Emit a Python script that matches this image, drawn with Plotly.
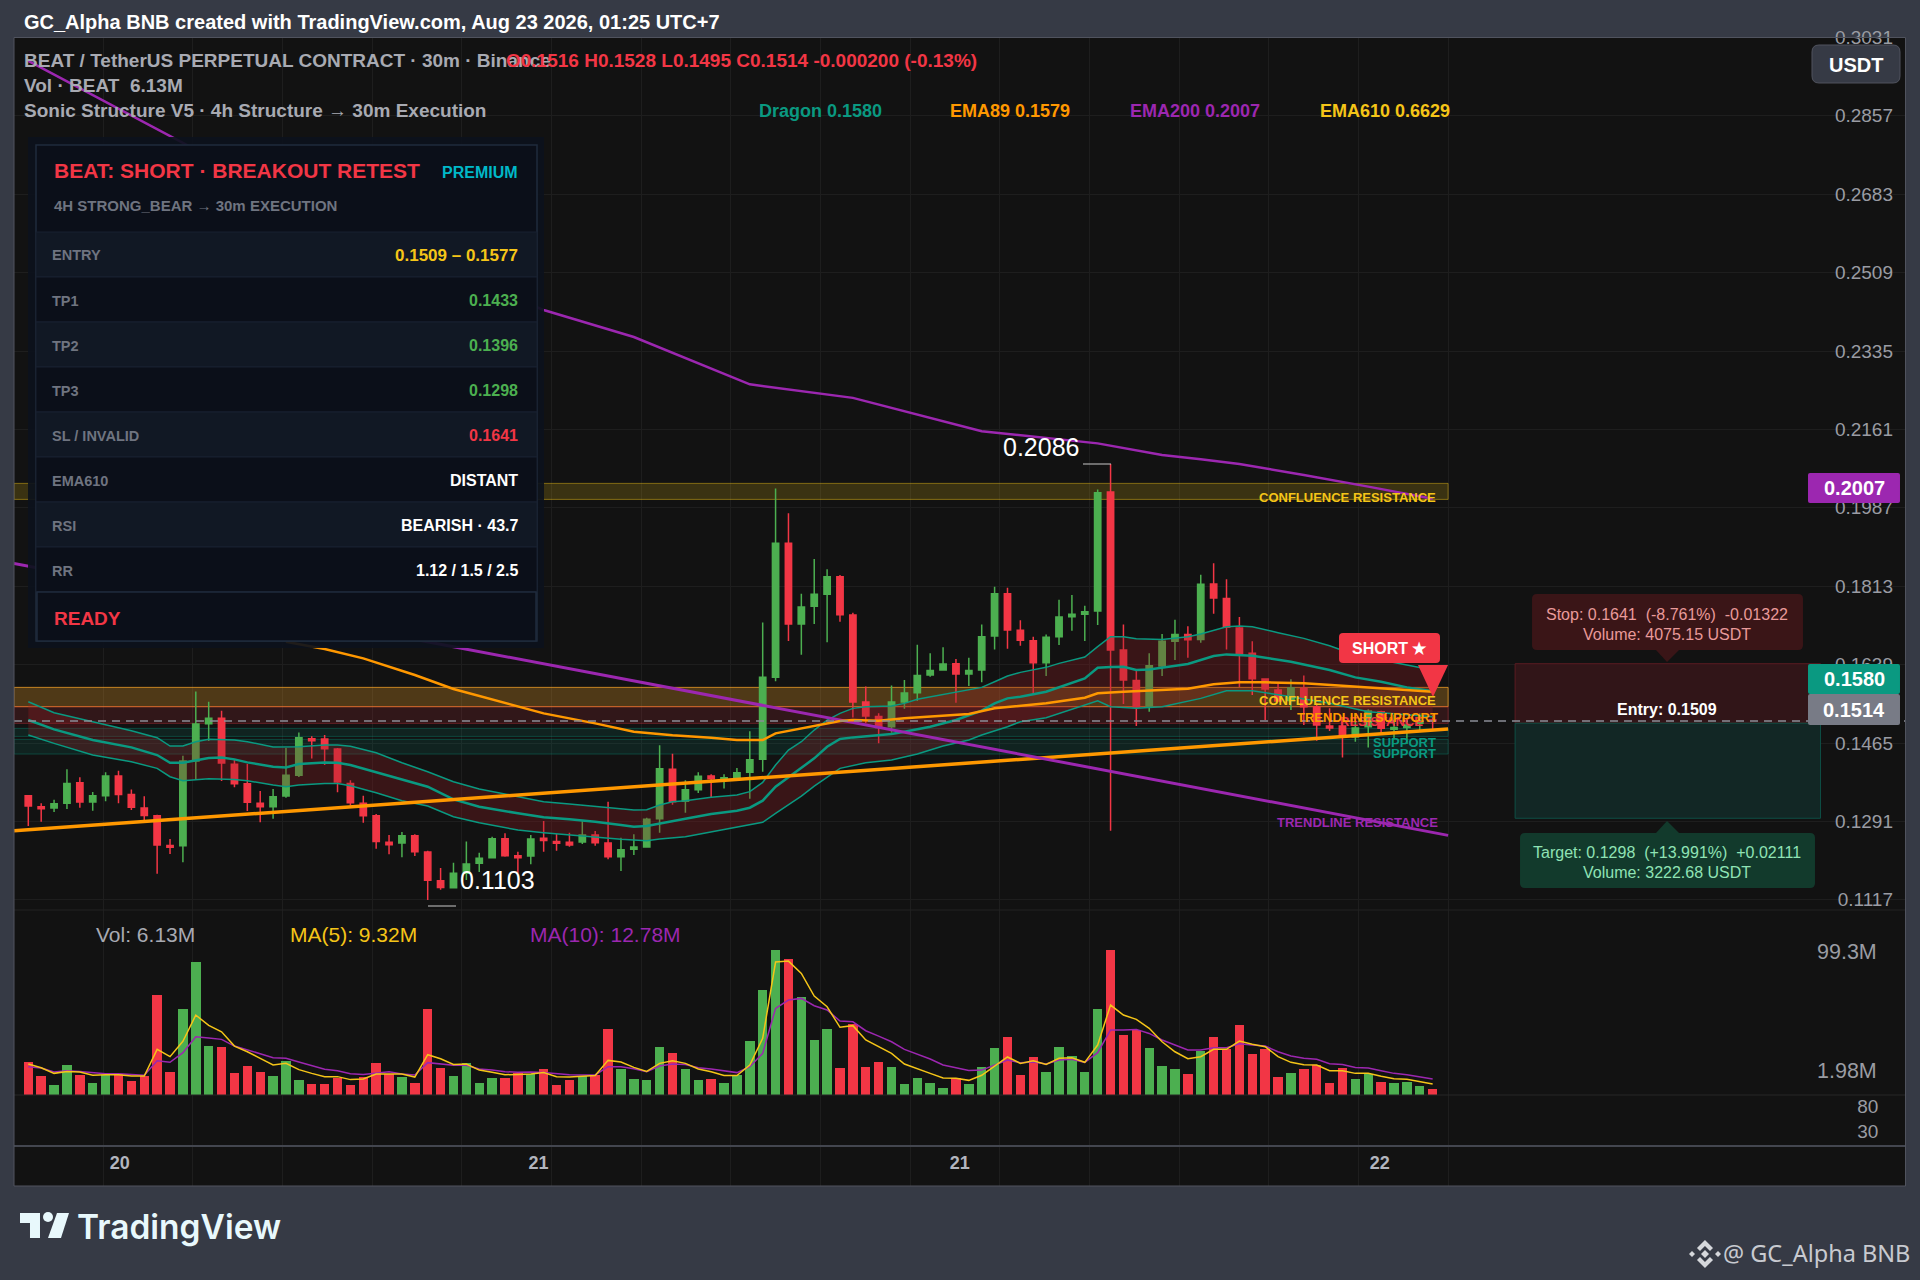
import plotly.graph_objects as go

W, H = 1920, 1280
FONT = 'Liberation Sans'
PAGE_BG = '#363A45'
PANE_BG = '#121212'
GRID = '#1E1E1E'
RED = '#F23645'
GREEN = '#4CAF50'
TEAL = '#0A9981'
ORANGE = '#FF9800'
PURPLE = '#9C27B0'
YELLOW = '#F5C518'
TICK = '#9A9CA3'

# candles, one row per 30m bar
candle_open = [
    .13481, .13237, .13207, .13311, .13769, .13340, .13481, .13917, .13510, .13207,
    .13037, .12378, .12371, .14250, .15079, .15197, .14176, .13747, .13311, .13237,
    .13473, .13932, .14746, .14738, .14516, .13754, .13311, .13037, .12445, .12430,
    .12593, .12230, .11594, .11439, .11757, .11979, .12105, .12526, .12149, .12142,
    .12534, .12467, .12445, .12452, .12608, .12430, .12127, .12290, .12341, .12970,
    .14065, .13355, .13614, .13917, .13836, .13873, .13999, .14287, .16107, .19081,
    .17290, .17683, .17949, .18341, .17490, .15559, .15241, .15012, .15559, .15767,
    .16159, .16270, .16410, .16181, .16270, .17024, .17964, .17150, .16921, .16432,
    .17009, .17453, .17505, .17579, .20220, .16713, .16040, .15441, .16358, .16906,
    .17061, .16950, .18178, .17860, .17202, .16640, .16070, .15826, .15596, .15863,
    .15456, .15027, .15027, .14783, .15012, .15345, .14953, .14997, .15086, .1516]
candle_high = [
    .13481, .13311, .13392, .14065, .13888, .13562, .13999, .14036, .13621, .13466,
    .13059, .12519, .14368, .15796, .15567, .15367, .14294, .14184, .13584, .13629,
    .14539, .14886, .14798, .14827, .14539, .13821, .13481, .13074, .12608, .12674,
    .12623, .12260, .11876, .11994, .12467, .12216, .12571, .12645, .12238, .12608,
    .12918, .12630, .12660, .12941, .12697, .13347, .12549, .12623, .12992, .14598,
    .14413, .13821, .13999, .13954, .13954, .14095, .14909, .17327, .20301, .19747,
    .17964, .18733, .18504, .18378, .17542, .15907, .15308, .15929, .16048, .16832,
    .16640, .16773, .16514, .16543, .17283, .18119, .18097, .17372, .17009, .17061,
    .17831, .17934, .17697, .20279, .20841, .17283, .16247, .16640, .17069, .17387,
    .17239, .18385, .18637, .18282, .17446, .16906, .16085, .15974, .16063, .16151,
    .15530, .15419, .15197, .15145, .15397, .15367, .15271, .15138, .15308, .1528]
candle_low = [
    .12807, .12904, .13118, .13185, .13214, .13148, .13355, .13311, .13163, .12896,
    .11750, .12186, .12001, .13843, .14694, .13806, .13666, .13141, .12889, .12970,
    .13436, .13895, .14309, .14161, .13555, .13259, .12881, .12304, .12179, .12112,
    .12142, .11165, .11395, .11424, .11609, .11787, .12090, .12127, .11757, .11957,
    .12238, .12260, .12349, .12408, .12371, .12068, .11809, .12164, .12334, .12660,
    .13281, .13103, .13540, .13451, .13643, .13828, .13414, .14013, .16018, .16913,
    .16610, .17290, .16884, .17342, .15219, .15086, .14642, .14879, .15411, .15582,
    .16122, .16255, .15545, .15915, .15996, .16728, .16743, .16810, .15722, .16137,
    .16824, .17143, .16913, .17268, .12704, .15515, .15027, .15345, .16137, .16492,
    .16543, .16876, .17520, .16728, .15892, .15715, .15160, .15567, .15382, .15049,
    .14701, .14916, .14331, .14679, .14553, .14849, .14731, .14627, .14901, .1495]
candle_close = [
    .13251, .13192, .13303, .13754, .13340, .13481, .13917, .13510, .13222, .13044,
    .12386, .12334, .14250, .15071, .15197, .14206, .13747, .13333, .13237, .13458,
    .13932, .14768, .14701, .14524, .13784, .13325, .13037, .12467, .12393, .12593,
    .12238, .11602, .11446, .11757, .11964, .12090, .12526, .12149, .12105, .12519,
    .12489, .12423, .12386, .12608, .12438, .12127, .12282, .12341, .12956, .14080,
    .13347, .13614, .13910, .13858, .13880, .13991, .14280, .16107, .19081, .17290,
    .17668, .17949, .18341, .17498, .15559, .15249, .14997, .15559, .15759, .16151,
    .16262, .16403, .16181, .16262, .17009, .17964, .17157, .16928, .16432, .16995,
    .17446, .17505, .17564, .20205, .16713, .16048, .15441, .16366, .16906, .17061,
    .16943, .18171, .17868, .17217, .16640, .16077, .15848, .15582, .15878, .15456,
    .15049, .14982, .14790, .14982, .15360, .14975, .14997, .15049, .15138, .1514]

# volume pane, millions
volume = [
    24.33, 14.50, 8.46, 21.87, 15.39, 10.03, 15.39, 15.84, 11.14, 14.94,
    69.03, 17.18, 59.42, 90.93, 34.83, 34.16, 16.51, 21.20, 17.40, 14.50,
    24.78, 11.81, 9.58, 9.36, 13.38, 8.46, 13.83, 23.21, 15.84, 14.05,
    10.25, 59.64, 20.31, 14.94, 23.66, 10.03, 13.60, 13.16, 16.51, 15.84,
    19.41, 8.46, 12.26, 14.94, 15.61, 46.01, 19.64, 12.71, 12.04, 33.94,
    29.92, 19.41, 11.81, 12.93, 9.80, 15.39, 37.96, 72.38, 99.30, 92.94,
    67.91, 38.86, 46.01, 20.08, 49.59, 20.75, 24.33, 20.53, 9.36, 13.16,
    9.80, 6.90, 13.16, 9.13, 20.75, 33.49, 40.87, 15.39, 27.68, 17.63,
    34.16, 28.13, 17.18, 59.64, 99.30, 41.99, 45.56, 33.49, 21.42, 19.41,
    15.84, 31.71, 40.87, 32.82, 48.92, 29.69, 32.82, 14.27, 16.51, 19.19,
    22.10, 10.03, 20.08, 12.48, 16.28, 10.47, 10.03, 10.92, 8.24, 6.13]
vol_ma5 = [
    22.8, 20.3, 16.5, 17.8, 17.4, 15.2, 15.6, 15.6, 14.7, 14.7,
    32.6, 27.7, 38.0, 55.6, 48.7, 44.4, 34.8, 31.0, 26.6, 22.1,
    23.2, 19.0, 16.5, 14.3, 14.3, 12.3, 12.7, 16.1, 16.1, 16.1,
    14.0, 29.0, 26.3, 22.5, 22.8, 18.7, 17.2, 15.6, 15.8, 16.1,
    17.0, 14.3, 14.0, 14.7, 15.0, 25.2, 24.1, 20.5, 17.8, 23.2,
    25.0, 23.2, 19.4, 17.6, 15.0, 15.0, 22.1, 40.0, 91.2, 91.8,
    83.6, 68.4, 61.2, 47.4, 48.5, 38.9, 34.4, 29.9, 22.8, 19.4,
    16.5, 13.4, 13.2, 11.8, 15.2, 21.4, 27.5, 23.2, 25.0, 22.5,
    26.6, 27.0, 23.9, 35.5, 62.3, 55.6, 52.7, 46.7, 37.7, 31.0,
    26.3, 27.7, 32.6, 32.6, 38.2, 36.0, 34.4, 27.7, 23.9, 22.3,
    22.1, 18.3, 18.3, 16.5, 16.5, 14.5, 12.9, 12.5, 11.1, 9.32]
vol_ma10 = [
    21.0, 20.1, 17.4, 18.3, 17.8, 17.0, 16.3, 16.3, 15.6, 15.2,
    25.0, 23.9, 30.4, 41.1, 40.2, 39.3, 34.8, 32.4, 29.7, 27.0,
    26.6, 24.1, 21.4, 19.2, 18.3, 16.3, 15.8, 16.7, 17.6, 16.1,
    15.4, 23.7, 23.0, 21.9, 21.9, 19.4, 18.7, 17.6, 17.2, 17.4,
    17.0, 16.1, 15.6, 15.4, 15.4, 21.0, 21.0, 19.6, 17.6, 21.4,
    22.8, 22.5, 20.3, 19.4, 18.3, 17.0, 21.0, 29.9, 60.1, 65.7,
    66.8, 61.9, 59.0, 51.6, 51.1, 45.1, 41.5, 37.7, 32.6, 29.5,
    26.1, 22.1, 20.5, 18.5, 18.7, 22.1, 25.4, 23.7, 24.1, 22.8,
    25.4, 25.9, 23.9, 30.4, 45.6, 45.6, 46.0, 43.3, 38.9, 35.5,
    32.2, 32.2, 33.7, 33.7, 36.4, 35.5, 34.8, 31.0, 28.1, 26.6,
    25.9, 23.0, 22.5, 20.5, 20.1, 18.3, 16.5, 15.6, 14.3, 12.78]

# dragon ribbon, read at the bars where the lines bend
upper_x = [0, 2, 5, 8, 10, 11, 12, 13, 14, 16, 17, 19, 21, 23, 24, 25, 27, 29, 31, 33, 35, 38, 40, 42, 44, 46, 47, 48, 49,
           50, 51, 53, 55, 56, 57, 58, 59, 60, 61, 62, 63, 64, 65, 67, 68, 69, 71, 73, 74, 75, 76, 77, 78, 79, 80,
           82, 83, 84, 85, 86, 88, 90, 91, 92, 93, 94, 95, 97, 99, 101, 103, 105, 107, 109]
upper_y = [.15567, .15323, .15123, .14923, .14768, .14583, .14583, .14679, .14731, .14716, .14679, .14561, .14568, .14605,
           .14605, .14576, .14435, .14213, .14013, .13791, .13629, .13458, .13347, .13296, .13244, .13192, .13163, .13170,
           .13274, .13347, .13370, .13444, .13496, .13570, .13777, .14161, .14494, .14679, .14938, .15160, .15308, .15419,
           .15456, .15471, .15530, .15619, .15730, .15826, .15885, .16011, .16137, .16218, .16270, .16329, .16418,
           .16558, .16788, .17009, .17009, .16965, .16950, .17009, .17069, .17157, .17231, .17246, .17231, .17098, .16972,
           .16810, .16603, .16492, .16381, .16270]
mid_x = [0, 2, 5, 8, 10, 11, 12, 13, 14, 15, 16, 17, 19, 20, 21, 23, 24, 25, 27, 29, 31, 33, 35, 38, 40, 42, 44, 46, 47, 48,
         49, 51, 53, 55, 56, 57, 58, 59, 60, 61, 62, 63, 64, 66, 67, 68, 70, 72, 74, 75, 76, 77, 79, 82, 83, 84, 85, 86, 87,
         90, 92, 93, 95, 98, 101, 103, 105, 107, 109]
mid_y = [.15160, .14953, .14716, .14553, .14383, .14213, .14213, .14257, .14317, .14331, .14287, .14220, .14124, .14109,
         .14184, .14220, .14213, .14161, .13999, .13851, .13680, .13399, .13237, .13089, .13000, .12956, .12904, .12830,
         .12793, .12808, .12867, .12970, .13074, .13148, .13214, .13370, .13680, .13888, .14109, .14309, .14568, .14738,
         .14775, .14834, .14849, .14901, .15012, .15160, .15367, .15530, .15641, .15678, .15789, .16085, .16321, .16336,
         .16344, .16270, .16284, .16403, .16580, .16617, .16588, .16455, .16270, .16107, .16011, .15885, .15800]
lower_x = [0, 2, 5, 8, 10, 11, 12, 13, 14, 16, 17, 19, 20, 21, 23, 24, 25, 27, 29, 31, 33, 35, 38, 40, 42, 44, 46, 48, 49,
           51, 53, 55, 57, 58, 60, 61, 63, 65, 67, 69, 71, 73, 74, 76, 77, 79, 82, 83, 84, 86, 88, 91, 93, 95, 98, 101,
           104, 107, 109]
lower_y = [.14827, .14642, .14383, .14235, .14087, .13902, .13814, .13843, .13858, .13843, .13814, .13717, .13680, .13717,
           .13754, .13754, .13703, .13547, .13370, .13251, .13014, .12881, .12719, .12660, .12608, .12571, .12512, .12482,
           .12519, .12571, .12682, .12793, .12889, .13089, .13473, .13695, .14087, .14213, .14272, .14405, .14583, .14716,
           .14827, .15012, .15123, .15212, .15493, .15589, .15456, .15419, .15456, .15641, .15811, .15811, .15678, .15530,
           .15345, .15271, .15234]
ema89_x = [20, 23, 26, 30, 33, 35, 38, 40, 44, 47, 50, 53, 55, 57, 58, 60, 63, 64, 66, 68, 70, 73, 75, 77, 79, 82, 83, 85,
           88, 90, 92, 94, 96, 99, 102, 105, 109]
ema89_y = [.16898, .16736, .16529, .16159, .15848, .15693, .15471, .15308, .15086, .14901, .14820, .14768, .14716, .14716,
           .14864, .14975, .15138, .15160, .15145, .15197, .15234, .15293, .15419, .15471, .15530, .15656, .15752, .15789,
           .15826, .15855, .15952, .15996, .15996, .15974, .15922, .15863, .1579]
ema200_x = [0, 11, 25, 40, 47, 56, 64, 74, 81, 83, 88, 91, 94, 99, 104, 109]
ema200_y = [.2979, .2812, .2600, .2426, .2366, .2261, .2231, .2157, .2137, .2130, .2104, .2095, .2084, .2060, .2034, .2007]

# straight trendlines and horizontal zones
edge_x = [-1.11, 110.2]
trend_support_y = [.12704, .14960]
trend_resist_y = [.18637, .12600]
zone_top = [(.20412, .20057), (.15885, .15456)]
zone_red = (.15456, .15086)
zone_green = [(.14975, .14797), (.14731, .14405)]

# position tool
box_x = [115.4, 139.1]
stop_price, entry_price, target_price = .1641, .1509, .1298
last_price = .1514

price_ticks = [.3031, .2857, .2683, .2509, .2335, .2161, .1987, .1813, .1639, .1465, .1291, .1117]
rsi_ticks = [80, 30]
date_pos = [7.1, 39.6, 72.3, 104.9]
date_labels = ['20', '21', '21', '22']
grid_pos = [5.8, 12.76, 19.72, 26.68, 33.64, 40.6, 47.56, 54.52, 61.48, 68.44, 75.4, 82.36, 89.32, 96.28, 103.24, 110.2]

rows = [
    ('ENTRY', '0.1509 – 0.1577', YELLOW, 17),
    ('TP1', '0.1433', GREEN, 16),
    ('TP2', '0.1396', GREEN, 16),
    ('TP3', '0.1298', GREEN, 16),
    ('SL / INVALID', '0.1641', RED, 16),
    ('EMA610', 'DISTANT', '#FFFFFF', 16),
    ('RSI', 'BEARISH · 43.7', '#FFFFFF', 16),
    ('RR', '1.12 / 1.5 / 2.5', '#FFFFFF', 16),
]

bars = list(range(len(candle_close)))
vol_colors = [GREEN if c >= o else RED for o, c in zip(candle_open, candle_close)]


def px(x):
    return x / W


def py(y):
    return 1 - y / H


fig = go.Figure()


def note(x, y, text, size, color, anchor='left', weight=400, family=FONT):
    fig.add_annotation(
        x=px(x), y=py(y), xref='paper', yref='paper', text=text, showarrow=False,
        xanchor=anchor, yanchor='middle', borderpad=0, borderwidth=0,
        font={'family': family, 'size': size, 'color': color, 'weight': weight},
    )


def pane_rect(x0, y0, x1, y1, fill, line=None, width=1, layer='above'):
    fig.add_shape(
        type='rect', xref='paper', yref='paper', x0=px(x0), x1=px(x1), y0=py(y0), y1=py(y1),
        fillcolor=fill, line={'color': line or 'rgba(0,0,0,0)', 'width': width}, layer=layer,
    )


def poly(points, fill, layer='above'):
    path = 'M ' + ' L '.join(f'{px(x):.5f} {py(y):.5f}' for x, y in points) + ' Z'
    fig.add_shape(type='path', xref='paper', yref='paper', path=path, fillcolor=fill,
                  line={'width': 0}, layer=layer)


def round_rect(x0, y0, x1, y1, r, fill, line=None):
    p = [
        f'M {px(x0 + r):.5f} {py(y0):.5f}', f'L {px(x1 - r):.5f} {py(y0):.5f}',
        f'Q {px(x1):.5f} {py(y0):.5f} {px(x1):.5f} {py(y0 + r):.5f}',
        f'L {px(x1):.5f} {py(y1 - r):.5f}',
        f'Q {px(x1):.5f} {py(y1):.5f} {px(x1 - r):.5f} {py(y1):.5f}',
        f'L {px(x0 + r):.5f} {py(y1):.5f}',
        f'Q {px(x0):.5f} {py(y1):.5f} {px(x0):.5f} {py(y1 - r):.5f}',
        f'L {px(x0):.5f} {py(y0 + r):.5f}',
        f'Q {px(x0):.5f} {py(y0):.5f} {px(x0 + r):.5f} {py(y0):.5f} Z',
    ]
    fig.add_shape(type='path', xref='paper', yref='paper', path=' '.join(p), fillcolor=fill,
                  line={'color': line or 'rgba(0,0,0,0)', 'width': 1}, layer='above')


def zone(top, bottom, fill, line):
    fig.add_shape(type='rect', xref='x', yref='y', x0=edge_x[0], x1=edge_x[1], y0=bottom, y1=top,
                  fillcolor=fill, line={'color': line, 'width': 1}, layer='between')


def line_trace(x, y, color, width, yaxis='y', **kw):
    return go.Scatter(x=x, y=y, mode='lines', yaxis=yaxis, hoverinfo='skip',
                      line={'color': color, 'width': width}, **kw)


# zones and position boxes sit under the candles
zone(*zone_top[0], 'rgba(245,197,24,0.18)', 'rgba(245,197,24,0.45)')
zone(*zone_top[1], 'rgba(255,170,40,0.26)', 'rgba(255,170,40,0.70)')
zone(*zone_red, 'rgba(242,54,69,0.14)', 'rgba(242,54,69,0.35)')
zone(*zone_green[0], 'rgba(10,153,129,0.13)', 'rgba(10,153,129,0.35)')
zone(*zone_green[1], 'rgba(10,153,129,0.13)', 'rgba(10,153,129,0.35)')
fig.add_shape(type='rect', xref='x', yref='y', x0=box_x[0], x1=box_x[1], y0=entry_price, y1=stop_price,
              fillcolor='#311518', line={'color': '#5A1C22', 'width': 1}, layer='between')
fig.add_shape(type='rect', xref='x', yref='y', x0=box_x[0], x1=box_x[1], y0=target_price, y1=entry_price,
              fillcolor='#122725', line={'color': '#0E4F45', 'width': 1}, layer='between')

fig.add_trace(line_trace(lower_x, lower_y, TEAL, 1.5))
fig.add_trace(line_trace(upper_x, upper_y, TEAL, 1.5, fill='tonexty', fillcolor='rgba(150,30,38,0.30)'))
fig.add_trace(line_trace(mid_x, mid_y, TEAL, 2.5))
fig.add_trace(line_trace(edge_x, trend_support_y, ORANGE, 3.5))
fig.add_trace(line_trace(edge_x, trend_resist_y, PURPLE, 3))
fig.add_trace(line_trace(ema200_x, ema200_y, PURPLE, 2.5))
fig.add_trace(line_trace(ema89_x, ema89_y, ORANGE, 2.5))

fig.add_trace(go.Candlestick(
    x=bars, open=candle_open, high=candle_high, low=candle_low, close=candle_close, yaxis='y',
    increasing={'line': {'color': GREEN, 'width': 1.5}, 'fillcolor': GREEN},
    decreasing={'line': {'color': RED, 'width': 1.5}, 'fillcolor': RED},
    whiskerwidth=0, hoverinfo='skip',
))

fig.add_trace(go.Bar(x=bars, y=volume, yaxis='y2', marker={'color': vol_colors, 'line': {'width': 0}},
                     width=0.73, hoverinfo='skip'))
fig.add_trace(line_trace(bars, vol_ma10, PURPLE, 1.5, yaxis='y2'))
fig.add_trace(line_trace(bars, vol_ma5, YELLOW, 1.5, yaxis='y2'))

# empty traces so the extra axes exist
fig.add_trace(go.Scatter(x=[0], y=[50], mode='none', yaxis='y3', hoverinfo='skip'))
fig.add_trace(go.Scatter(x=[0], y=[0.5], mode='none', yaxis='y4', hoverinfo='skip'))
fig.add_trace(go.Scatter(x=[0], y=[.2], mode='none', yaxis='y5', hoverinfo='skip'))

# last price line
fig.add_shape(type='line', xref='x', yref='y', x0=-1.11, x1=145.7, y0=last_price, y1=last_price,
              line={'color': '#8A8D97', 'width': 1.5, 'dash': '8px,6px'}, layer='above')

# peak and trough markers
fig.add_shape(type='line', xref='paper', yref='paper', x0=px(1083), x1=px(1111), y0=py(464), y1=py(464),
              line={'color': '#C8C8C8', 'width': 1}, layer='above')
fig.add_shape(type='line', xref='paper', yref='paper', x0=px(428), x1=px(456), y0=py(906), y1=py(906),
              line={'color': '#C8C8C8', 'width': 1}, layer='above')
note(1041, 447, '0.2086', 25, '#FFFFFF', 'center')
note(497, 880, '0.1103', 25, '#FFFFFF', 'center')

# zone captions
note(1436, 497, 'CONFLUENCE RESISTANCE', 13, YELLOW, 'right', 700)
note(1436, 700, 'CONFLUENCE RESISTANCE', 13, YELLOW, 'right', 700)
note(1423, 721, 'RESISTANCE', 13, RED, 'right', 700)
note(1438, 717, 'TRENDLINE SUPPORT', 13, ORANGE, 'right', 700)
note(1436, 742, 'SUPPORT', 13, TEAL, 'right', 700)
note(1436, 753, 'SUPPORT', 13, TEAL, 'right', 700)
note(1438, 822, 'TRENDLINE RESISTANCE', 13, PURPLE, 'right', 700)

# short badge
round_rect(1339, 633, 1440, 663, 4, RED)
poly([(1418, 665), (1448, 665), (1433, 697)], RED)
note(1389, 648, 'SHORT ★', 16, '#FFFFFF', 'center', 700)

# signal panel
pane_rect(28, 137, 544, 648, 'rgba(12,17,28,0.92)')
pane_rect(36, 145, 537, 641, '#0B0F19', '#1F2B3D', 1.5)
row_top = 232
row_h = 45
note(54, 171, 'BEAT: SHORT · BREAKOUT RETEST', 21, RED, 'left', 700)
note(518, 173, 'PREMIUM', 16, '#00B8C8', 'right', 700)
note(54, 206, '4H STRONG_BEAR → 30m EXECUTION', 15, '#6F7480', 'left', 700)
for n, (name, value, color, size) in enumerate(rows):
    top = row_top + n * row_h
    pane_rect(36, top, 537, top + row_h, '#111824' if n % 2 == 0 else '#0B0F19', '#182130', 1)
    note(52, top + row_h / 2 + 1, name, 14.5, '#6F7480', 'left', 700)
    note(518, top + row_h / 2 + 1, value, size, color, 'right', 700)
pane_rect(37, 592, 536, 641, '#0B0F19', '#1F2B3D', 1.5)
note(54, 618, 'READY', 19, RED, 'left', 700)

# position tool labels
round_rect(1532, 594, 1803, 650, 5, '#3A1517')
poly([(1656, 650), (1679, 650), (1667, 662)], '#3A1517')
note(1667, 614, 'Stop: 0.1641  (-8.761%)  -0.01322', 16, '#E99A9A', 'center')
note(1667, 634, 'Volume: 4075.15 USDT', 16, '#E99A9A', 'center')
note(1667, 709, 'Entry: 0.1509', 16, '#FFFFFF', 'center', 700)
round_rect(1520, 833, 1815, 888, 5, '#123A2C')
poly([(1656, 833), (1679, 833), (1667, 821)], '#123A2C')
note(1667, 852, 'Target: 0.1298  (+13.991%)  +0.02111', 16, '#8FE3B5', 'center')
note(1667, 872, 'Volume: 3222.68 USDT', 16, '#8FE3B5', 'center')

# price scale flags
for top, bottom, fill, text in [(473, 503, PURPLE, '0.2007'), (664, 694, '#0A9981', '0.1580'),
                                (694, 725, '#787B86', '0.1514')]:
    round_rect(1808, top, 1900, bottom, 2, fill)
    note(1854, (top + bottom) / 2, text, 20, '#FFFFFF', 'center', 700)
round_rect(1812, 45, 1900, 83, 7, PAGE_BG, '#50535E')
note(1856, 65, 'USDT', 20, '#FFFFFF', 'center', 700)

# volume pane captions and scale
note(96, 934, 'Vol: 6.13M', 21, '#A8AAB2')
note(290, 934, 'MA(5): 9.32M', 21, YELLOW)
note(530, 934, 'MA(10): 12.78M', 21, PURPLE)
note(1877, 952, '99.3M', 21.5, TICK, 'right')
note(1877, 1071, '1.98M', 21.5, TICK, 'right')

# header text
note(24, 22, 'GC_Alpha BNB created with TradingView.com, Aug 23 2026, 01:25 UTC+7', 20, '#FFFFFF', 'left', 700)
note(24, 61, 'BEAT / TetherUS PERPETUAL CONTRACT · 30m · Binance', 19, '#A8AAB2', 'left', 700)
note(24, 86, 'Vol · BEAT  6.13M', 19, '#A8AAB2', 'left', 700)
note(24, 111, 'Sonic Structure V5 · 4h Structure → 30m Execution', 19, '#A8AAB2', 'left', 700)
note(506, 61, 'O0.1516 H0.1528 L0.1495 C0.1514 -0.000200 (-0.13%)', 19, RED, 'left', 700)
note(759, 111, 'Dragon 0.1580', 18, TEAL, 'left', 700)
note(950, 111, 'EMA89 0.1579', 18, ORANGE, 'left', 700)
note(1130, 111, 'EMA200 0.2007', 18, PURPLE, 'left', 700)
note(1320, 111, 'EMA610 0.6629', 18, YELLOW, 'left', 700)

# logo
logo = '#E8F8FC'
poly([(20, 1213), (40, 1213), (40, 1238), (30, 1238), (30, 1223), (20, 1223)], logo)
fig.add_shape(type='circle', xref='paper', yref='paper', x0=px(43), x1=px(53), y0=py(1212), y1=py(1222),
              fillcolor=logo, line={'width': 0})
poly([(57, 1213), (69, 1213), (61, 1238), (48, 1238)], logo)
note(77, 1227, 'TradingView', 33.5, logo, 'left', 600, 'Inter')

# binance mark next to the author tag
mark = '#D5D7DB'
cx, cy = 1705, 1254
poly([(cx, cy - 4), (cx + 4, cy), (cx, cy + 4), (cx - 4, cy)], mark)
poly([(cx - 10, cy), (cx - 13, cy + 3), (cx - 16, cy), (cx - 13, cy - 3)], mark)
poly([(cx + 10, cy), (cx + 13, cy + 3), (cx + 16, cy), (cx + 13, cy - 3)], mark)
poly([(cx, cy - 14), (cx + 8, cy - 6), (cx + 5, cy - 3), (cx, cy - 8), (cx - 5, cy - 3), (cx - 8, cy - 6)], mark)
poly([(cx, cy + 14), (cx + 8, cy + 6), (cx + 5, cy + 3), (cx, cy + 8), (cx - 5, cy + 3), (cx - 8, cy + 6)], mark)
note(1723, 1253, '@ GC_Alpha BNB', 23.5, '#C8CAD0', 'left', 400, 'Noto Sans')

# dividers between panes
fig.add_shape(type='line', xref='paper', yref='paper', x0=px(14), x1=px(1905), y0=py(1146), y1=py(1146),
              line={'color': '#43464F', 'width': 2}, layer='above')
fig.add_shape(type='line', xref='paper', yref='paper', x0=px(14), x1=px(1905), y0=py(1095), y1=py(1095),
              line={'color': '#262626', 'width': 1}, layer='above')
fig.add_shape(type='line', xref='paper', yref='paper', x0=px(14), x1=px(1905), y0=py(910), y1=py(910),
              line={'color': '#222222', 'width': 1}, layer='above')
fig.add_shape(type='rect', xref='paper', yref='paper', x0=px(14), x1=px(1905.5), y0=py(1186), y1=py(37.5),
              line={'color': '#50535E', 'width': 1}, layer='above')

fig.update_layout(
    width=W, height=H, margin={'l': 0, 'r': 0, 't': 0, 'b': 0, 'autoexpand': False},
    paper_bgcolor=PAGE_BG, plot_bgcolor=PANE_BG,
    showlegend=False, bargap=0, hovermode=False,
    font={'family': FONT, 'color': TICK},
    xaxis={
        'domain': [px(14), px(1905.5)], 'range': [-1.11, 145.7], 'type': 'linear', 'anchor': 'y4',
        'automargin': False,
        'rangeslider': {'visible': False}, 'showgrid': False, 'zeroline': False, 'showline': False,
        'tickmode': 'array', 'tickvals': date_pos, 'ticktext': date_labels, 'ticks': '',
        'ticklabelposition': 'inside', 'ticklabelstandoff': 10,
        'tickfont': {'size': 18, 'color': '#B2B5BE', 'weight': 700},
        'minor': {'tickmode': 'array', 'tickvals': grid_pos, 'showgrid': True, 'gridcolor': GRID,
                  'gridwidth': 1, 'ticks': ''},
    },
    yaxis={
        'domain': [py(910), py(37.4)], 'range': [.10944, .3031], 'side': 'right', 'anchor': 'x',
        'automargin': False,
        'tickmode': 'array', 'tickvals': price_ticks, 'showticklabels': False, 'ticks': '',
        'gridcolor': GRID, 'gridwidth': 1, 'zeroline': False, 'showline': False,
    },
    yaxis2={
        'domain': [py(1095), py(910)], 'range': [1.98, 126.1], 'side': 'right', 'anchor': 'x',
        'automargin': False,
        'showticklabels': False, 'showgrid': False, 'zeroline': False, 'showline': False,
    },
    yaxis3={
        'domain': [py(1146), py(1095)], 'range': [0, 102], 'side': 'right', 'anchor': 'x',
        'automargin': False,
        'tickmode': 'array', 'tickvals': rsi_ticks, 'ticktext': [str(t) for t in rsi_ticks],
        'ticklabelposition': 'inside', 'ticks': 'inside', 'ticklen': 28, 'tickcolor': 'rgba(0,0,0,0)',
        'tickfont': {'size': 19, 'color': TICK}, 'showgrid': False, 'zeroline': False, 'showline': False,
    },
    yaxis4={
        'domain': [py(1186), py(1146)], 'range': [0, 1], 'side': 'right', 'anchor': 'x',
        'automargin': False,
        'showticklabels': False, 'showgrid': False, 'zeroline': False, 'showline': False,
    },
    # price labels live on a free axis so the ones at the pane edges still draw
    yaxis5={
        'domain': [py(910), py(37.4)], 'range': [.10944, .3031], 'overlaying': 'y', 'anchor': 'free',
        'automargin': False,
        'position': px(1893), 'side': 'left', 'tickmode': 'array', 'tickvals': price_ticks,
        'ticktext': [f'{t:.4f}' for t in price_ticks], 'ticks': '', 'tickfont': {'size': 19, 'color': TICK},
        'showgrid': False, 'zeroline': False, 'showline': False,
    },
)

fig.write_html('out.html', config={'displayModeBar': False},
               post_script="document.body.style.margin='0';document.body.style.background='#363A45';")
